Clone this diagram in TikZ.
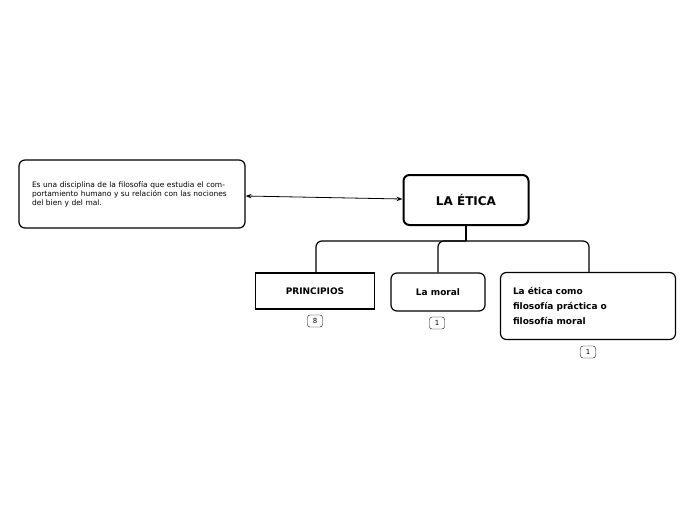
\documentclass[tikz,border=0pt]{standalone}
\usepackage{fontspec}
\setmainfont{DejaVu Sans}
\usetikzlibrary{arrows.meta}
\begin{document}
\begin{tikzpicture}[x=1pt,y=-1pt,
  box/.style={draw,line width=1.2pt,rounded corners=6pt,align=left,inner sep=0pt},
  badge/.style={draw,rounded corners=2.5pt,font=\fontsize{7}{8}\selectfont,minimum width=15pt,minimum height=12pt,inner sep=0pt},
  conn/.style={line width=1.2pt,rounded corners=6pt}]
\useasboundingbox (0,0) rectangle (696,520);
\node[box,line width=2pt,minimum width=125pt,minimum height=50pt,align=center,font=\bfseries\fontsize{12}{14}\selectfont] (main) at (466,200) {LA ÉTICA};
\node[box,minimum width=226pt,minimum height=68pt,text width=200pt,font=\fontsize{7.5}{9}\selectfont] (desc) at (132,194) {Es una disciplina de la filosofía que estudia el comportamiento humano y su relación con las nociones del bien y del mal.};
\node[box,rounded corners=0pt,minimum width=119pt,minimum height=36pt,align=center,font=\bfseries\fontsize{9}{11}\selectfont] (pr) at (315,291) {PRINCIPIOS};
\node[box,minimum width=94pt,minimum height=38pt,align=center,font=\bfseries\fontsize{9}{11}\selectfont] (mo) at (438,292) {La moral};
\node[box,minimum width=175pt,minimum height=67pt,text width=150pt,font=\bfseries\fontsize{9}{15}\selectfont] (et) at (588,306) {La ética como\\filosofía práctica o\\filosofía moral};
\node[badge] (b1) at (315,321) {8};
\node[badge] (b2) at (437,323) {1};
\node[badge] (b3) at (588,352) {1};
\draw[line width=0.8pt,{Stealth[length=6pt,open]}-{Stealth[length=6pt,open]}] (desc.east|-0,196) -- (main.west|-0,199);
\coordinate (j) at (466,241);
\draw[line width=1.2pt] (main.south) -- (j);
\draw[conn] (j) -- (316,241) -- (pr.north-|316,0);
\draw[conn] (j) -- (589,241) -- (et.north-|589,0);
\draw[conn] (j) -- (438,241) -- (mo.north);
\end{tikzpicture}
\end{document}
